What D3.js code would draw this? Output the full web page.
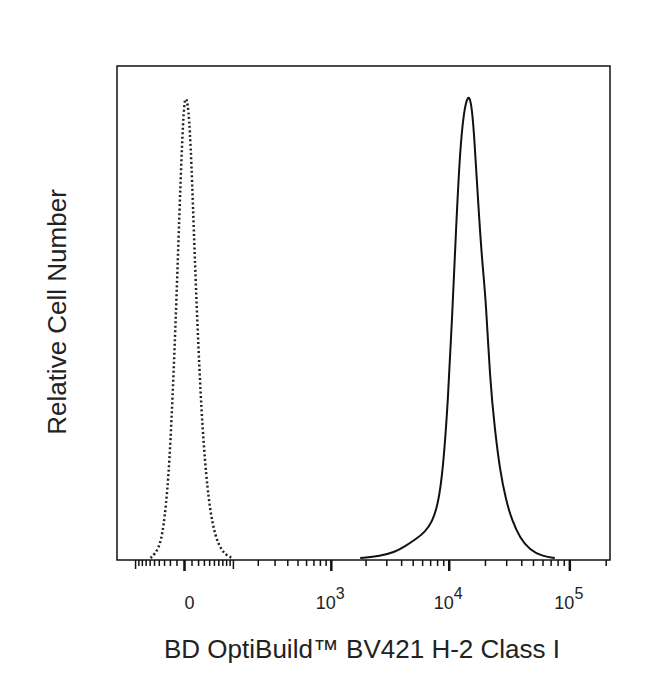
<!DOCTYPE html>
<html>
<head>
<meta charset="utf-8">
<script src="https://d3js.org/d3.v7.min.js"></script>
<style>
  body { margin: 0; background: #fff; }
  text { font-family: "Liberation Sans", Arial, sans-serif; fill: #222; }
</style>
</head>
<body>
<svg id="chart" width="650" height="694"></svg>
<script>
// control (dotted) histogram: fluorescence value, relative count
const controlX = [-59, -41.5, -32, -23, -16.6, -10.7, -5.1, -1.2, 1.2, 5.1, 9.2, 13.6, 19.8, 26.5, 35.6, 45.7, 59, 76.7, 97];
const controlY = [0, 1.6, 5.7, 15.9, 32.1, 52.4, 76.8, 91, 94.1, 92.1, 80.9, 62.6, 42.3, 26, 13.8, 6.7, 2.6, 0.6, 0];
// stained (solid) histogram
const stainX = [1781, 2633, 3523, 4278, 5186, 6286, 7190, 8065, 8879, 9770, 10546, 11382, 12285, 13260, 14313, 15158, 16055, 17330, 18700, 20190, 21800, 23960, 26360, 29550, 33130, 38580, 46700, 58630, 75100];
const stainY = [0, 0.4, 1.2, 2.4, 3.7, 5.3, 7.3, 10.8, 17.9, 32.1, 48.4, 66.7, 82.9, 91, 94.1, 93.1, 87, 72.8, 60.6, 52.4, 36.2, 26, 17.9, 11.8, 7.7, 4.1, 1.6, 0.4, 0];
const majorTicks = [0, 1e3, 1e4, 1e5];
const majorLabels = [null, 3, 4, 5];

const plotLeft = 117, plotRight = 610, plotTop = 66, plotBottom = 560;
const svg = d3.select("#chart");

const x = d3.scaleSymlog().constant(65).domain([-170, 215000]).range([plotLeft, plotRight]);
const y = d3.scaleLinear().domain([0, 100]).range([558, plotTop]);

// minor ticks
const minor = [];
for (let m = 1; m <= 9; m++) { minor.push(m * 10, -m * 10, m * 100, -m * 100, m * 1000, m * 10000); }
minor.push(2e5);
const minorTicks = minor.filter(v => v > -170 && v < 215000 && !majorTicks.includes(v));

const g = svg.append("g");
g.selectAll("line.minor")
  .data(minorTicks)
  .enter()
  .append("line")
  .attr("x1", d => x(d)).attr("x2", d => x(d))
  .attr("y1", plotBottom).attr("y2", d => (Math.abs(d) === 100 ? plotBottom + 9 : plotBottom + 6))
  .attr("stroke", "#111").attr("stroke-width", 1.5);
g.selectAll("line.major")
  .data(majorTicks)
  .enter()
  .append("line")
  .attr("x1", d => x(d)).attr("x2", d => x(d))
  .attr("y1", plotBottom).attr("y2", plotBottom + 11)
  .attr("stroke", "#111").attr("stroke-width", 2.5);

// tick labels
majorTicks.forEach((v, i) => {
  const t = svg.append("text")
    .attr("x", x(v) + (i === 0 ? 5 : -1))
    .attr("y", 609)
    .attr("text-anchor", "middle")
    .attr("font-size", 18);
  if (majorLabels[i] === null) {
    t.text("0");
  } else {
    t.text("10");
    t.append("tspan").attr("dy", -10).attr("font-size", 16).text(majorLabels[i]);
  }
});

// curves
const line = d3.line().x(d => x(d[0])).y(d => y(d[1])).curve(d3.curveBasis);
svg.append("path")
  .attr("d", line(d3.zip(controlX, controlY)))
  .attr("fill", "none").attr("stroke", "#222").attr("stroke-width", 2.5)
  .attr("stroke-dasharray", "2,2.5");
svg.append("path")
  .attr("d", line(d3.zip(stainX, stainY)))
  .attr("fill", "none").attr("stroke", "#111").attr("stroke-width", 2);

// frame
svg.append("rect")
  .attr("x", plotLeft).attr("y", plotTop)
  .attr("width", plotRight - plotLeft).attr("height", plotBottom - plotTop)
  .attr("fill", "none").attr("stroke", "#111").attr("stroke-width", 1.5);

// axis titles
svg.append("text")
  .attr("x", 362).attr("y", 658)
  .attr("text-anchor", "middle").attr("font-size", 26)
  .text("BD OptiBuild™ BV421 H-2 Class I");
svg.append("text")
  .attr("transform", "translate(66,312) rotate(-90)")
  .attr("text-anchor", "middle").attr("font-size", 26)
  .text("Relative Cell Number");
</script>
</body>
</html>
